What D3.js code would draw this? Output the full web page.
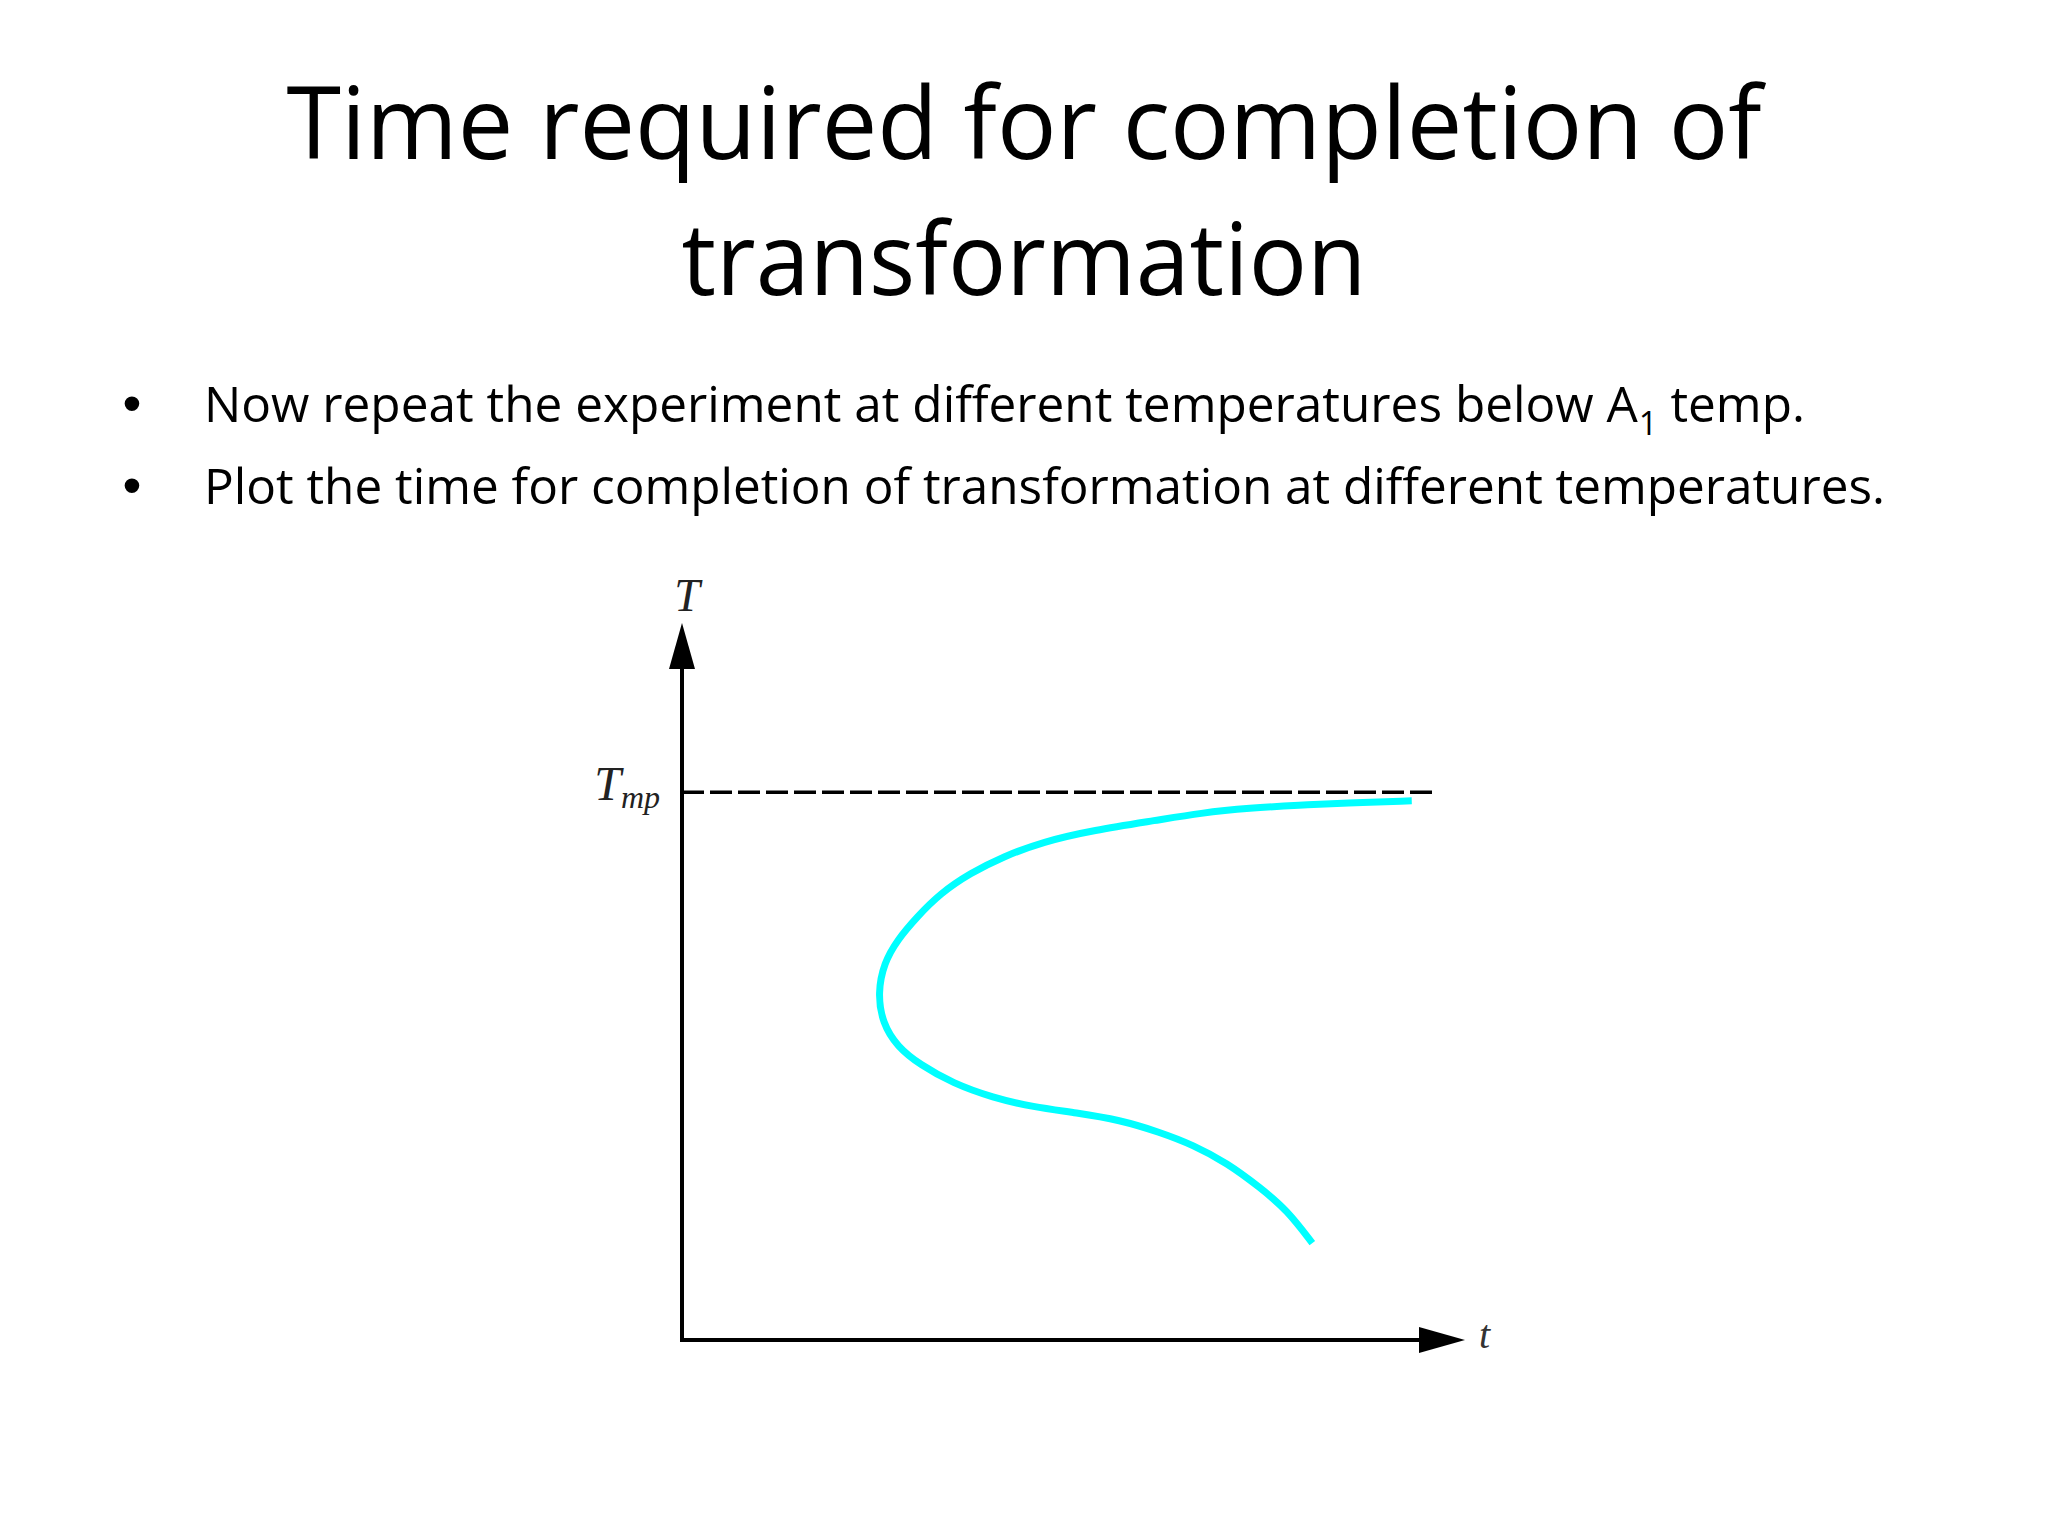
<!DOCTYPE html>
<html>
<head>
<meta charset="utf-8">
<script src="https://cdn.jsdelivr.net/npm/d3@7"></script>
<style>
  html, body { margin: 0; padding: 0; background: #fff; }
  svg { display: block; }
</style>
</head>
<body>
<svg id="chart" width="2048" height="1536"></svg>
<script>
// ---- Data ----
const titleLines = ["Time required for completion of", "transformation"];
const bullet1 = ["Now repeat the experiment at different temperatures below A", "1", " temp."];
const bullet2 = "Plot the time for completion of transformation at different temperatures.";

// C-curve: time for completion (t, arbitrary units 0-100) vs temperature (T, 0-100)
const curveTime = [93.2, 84.7, 78.9, 72.5, 66.2, 60.7, 52.5, 46.1, 41.0, 36.8, 33.0, 30.0, 27.5, 25.8, 25.0,
                   25.6, 27.5, 30.4, 34.6, 39.7, 44.8, 50.4, 55.9, 61.0, 65.3, 69.6, 73.8, 77.3, 80.5];
const curveTemp = [75.2, 74.9, 74.6, 74.2, 73.5, 72.5, 71.1, 69.5, 67.4, 65.1, 62.3, 59.0, 55.8, 52.6, 48.4,
                   44.2, 40.9, 38.4, 35.8, 33.8, 32.5, 31.7, 30.7, 29.0, 27.2, 24.7, 21.3, 18.1, 13.5];
const tmpValue = 76.4;      // T_mp level
const tmpLineEnd = 95.8;    // time where dashed line ends

// ---- Setup ----
const svg = d3.select("#chart");
svg.append("rect").attr("width", 2048).attr("height", 1536).attr("fill", "#fff");

const x = d3.scaleLinear().domain([0, 100]).range([682, 1465]);
const y = d3.scaleLinear().domain([0, 100]).range([1340, 623]);

// ---- Title ----
const titleFont = "'Open Sans', 'Noto Sans', sans-serif";
const titleBase = [159, 295];
const titleLen = [1475, 685];
titleLines.forEach((t, i) => {
  svg.append("text")
    .attr("x", 1024).attr("y", titleBase[i])
    .attr("text-anchor", "middle")
    .attr("font-family", titleFont)
    .attr("font-size", 100)
    .attr("fill", "#000")
    .attr("textLength", titleLen[i])
    .attr("lengthAdjust", "spacingAndGlyphs")
    .text(t);
});

// ---- Bullets ----
const bFont = "'Open Sans', 'Noto Sans', sans-serif";
[422, 504].forEach(yy => {
  svg.append("text")
    .attr("x", 132).attr("y", yy)
    .attr("text-anchor", "middle")
    .attr("font-family", "'Liberation Sans', Arial, sans-serif")
    .attr("font-size", 54)
    .attr("fill", "#000")
    .text("\u2022");
});
const b1 = svg.append("text")
  .attr("x", 204).attr("y", 422)
  .attr("font-family", bFont).attr("font-size", 50).attr("fill", "#000")
  .attr("textLength", 1601).attr("lengthAdjust", "spacingAndGlyphs");
b1.append("tspan").text(bullet1[0]);
b1.append("tspan").attr("dx", 1).attr("dy", 13).attr("font-size", 33).text(bullet1[1]);
b1.append("tspan").attr("dy", -13).text(bullet1[2]);

svg.append("text")
  .attr("x", 204).attr("y", 504)
  .attr("font-family", bFont).attr("font-size", 50).attr("fill", "#000")
  .attr("textLength", 1681).attr("lengthAdjust", "spacingAndGlyphs")
  .text(bullet2);

// ---- Axes ----
const axisColor = "#000";
const x0 = x(0), y0 = y(0), xTip = x(100), yTip = y(100);
const arrowLen = 46, arrowHalf = 13;

svg.append("line")
  .attr("x1", x0).attr("y1", y0 + 2)
  .attr("x2", x0).attr("y2", yTip + arrowLen - 2)
  .attr("stroke", axisColor).attr("stroke-width", 4);
svg.append("line")
  .attr("x1", x0 - 2).attr("y1", y0)
  .attr("x2", xTip - arrowLen + 2).attr("y2", y0)
  .attr("stroke", axisColor).attr("stroke-width", 4);

// arrowheads
svg.append("path")
  .attr("d", d3.line()([[x0, yTip], [x0 - arrowHalf, yTip + arrowLen], [x0 + arrowHalf, yTip + arrowLen]]) + "Z")
  .attr("fill", axisColor);
svg.append("path")
  .attr("d", d3.line()([[xTip, y0], [xTip - arrowLen, y0 - arrowHalf], [xTip - arrowLen, y0 + arrowHalf]]) + "Z")
  .attr("fill", axisColor);

// axis labels
const serif = "'Liberation Serif', 'DejaVu Serif', serif";
svg.append("text")
  .attr("x", x0 + 5).attr("y", yTip - 12)
  .attr("text-anchor", "middle")
  .attr("font-family", serif).attr("font-style", "italic")
  .attr("font-size", 46).attr("fill", "#222")
  .text("T");
svg.append("text")
  .attr("x", xTip + 14).attr("y", y0 + 8)
  .attr("font-family", serif).attr("font-style", "italic")
  .attr("font-size", 40).attr("fill", "#333")
  .text("t");

const tmpLabel = svg.append("text")
  .attr("x", x0 - 22).attr("y", y(tmpValue) + 8)
  .attr("text-anchor", "end")
  .attr("font-family", serif).attr("font-style", "italic")
  .attr("fill", "#222");
tmpLabel.append("tspan").attr("font-size", 48).text("T");
tmpLabel.append("tspan").attr("font-size", 32).attr("dy", 8).text("mp");

// T_mp dashed line
svg.append("line")
  .attr("x1", x0).attr("y1", y(tmpValue))
  .attr("x2", x(tmpLineEnd)).attr("y2", y(tmpValue))
  .attr("stroke", "#000").attr("stroke-width", 3.5)
  .attr("stroke-dasharray", "22,6");

// ---- Curve ----
const pts = curveTime.map((t, i) => [t, curveTemp[i]]);
const line = d3.line()
  .x(d => x(d[0]))
  .y(d => y(d[1]))
  .curve(d3.curveBasis);
svg.append("path")
  .datum(pts)
  .attr("d", line)
  .attr("fill", "none")
  .attr("stroke", "#00FFFF")
  .attr("stroke-width", 7)
  .attr("stroke-linecap", "butt");
</script>
</body>
</html>
